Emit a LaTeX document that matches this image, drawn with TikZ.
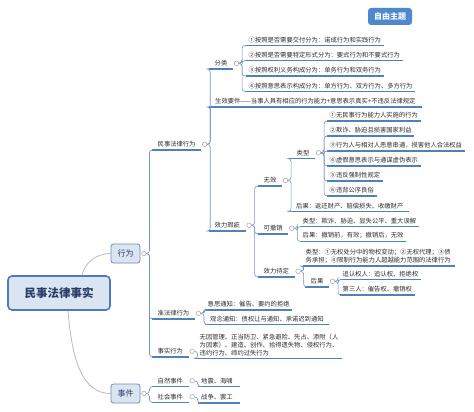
\documentclass[tikz,border=0pt]{standalone}
\usepackage{fontspec}
\setmainfont{Noto Sans CJK SC}
\definecolor{txt}{RGB}{45,45,45}
\definecolor{ulc}{RGB}{79,129,189}
\definecolor{connc}{RGB}{115,148,200}
\definecolor{circc}{RGB}{165,165,165}
\definecolor{boxf}{RGB}{219,229,242}
\definecolor{rootd}{RGB}{79,121,189}
\definecolor{boxd}{RGB}{110,140,185}
\definecolor{rootc}{RGB}{40,60,105}
\definecolor{rconnc}{RGB}{178,186,200}
\definecolor{zyc}{RGB}{77,137,204}
\begin{document}
\begin{tikzpicture}[x=1pt,y=-1pt,
  every node/.style={font=\fontsize{6.3}{8}\selectfont, text=txt},
  lf/.style={anchor=south west, inner xsep=2.5pt, inner ysep=2.6pt},
  br/.style={anchor=south west, inner xsep=5.5pt, inner ysep=2.6pt},
  circ/.style={circle, draw=circc, fill=white, line width=0.5pt, minimum size=4.6pt, inner sep=0pt},
  conn/.style={draw=connc, line width=0.6pt, rounded corners=3pt},
  rconn/.style={draw=rconnc, line width=0.8pt},
  uline/.style={draw=ulc, line width=1.1pt},
  topic/.style={rounded corners=2.5pt, fill=boxf, draw=boxd, line width=0.8pt, minimum width=29pt, minimum height=19pt, font=\fontsize{8}{9}\selectfont, text=rootc, inner sep=0pt},
]
\useasboundingbox (0,0) rectangle (474,412);
\fill[white] (0,0) rectangle (474,412);

% main topics
\node[rounded corners=4pt, fill=boxf, draw=rootd, line width=1.6pt, minimum width=102pt, minimum height=34pt, font=\fontsize{11.5}{13}\selectfont\bfseries, text=rootc] (root) at (59,293) {民事法律事实};
\node[topic] (xw) at (125.5,253.5) {行为};
\node[topic] (sj) at (125.5,393.5) {事件};
\node[fill=zyc, rounded corners=3pt, text=white, font=\fontsize{8}{9}\selectfont\bfseries, minimum width=44pt, minimum height=17pt, inner sep=0pt] (zy) at (390,16.5) {自由主题};

% level 2
\node[br] (mflx) at (152,150) {民事法律行为};
\node[br] (zflxw) at (152,319) {准法律行为};
\node[br] (sssxw) at (152,357) {事实行为};
\node[br] (zrsj) at (152,386.5) {自然事件};
\node[br] (shsj) at (152,402.5) {社会事件};

% level 3 under 民事法律行为
\node[br] (fl) at (209,69) {分类};
\node[lf, inner xsep=6pt] (sxyj) at (209,107) {生效要件——当事人具有相应的行为能力+意思表示真实+不违反法律规定};
\node[br] (xlxc) at (209,231) {效力瑕疵};

% 分类
\node[lf] (fl1) at (246,45.5) {①按照是否需要交付分为：诺成行为和实践行为};
\node[lf] (fl2) at (246,60.5) {②按照是否需要特定形式分为：要式行为和不要式行为};
\node[lf] (fl3) at (246,76) {③按照权利义务构成分为：单务行为和双务行为};
\node[lf] (fl4) at (246,91.5) {④按照意思表示构成分为：单方行为、双方行为、多方行为};

% 效力瑕疵
\node[br] (wx) at (258,186) {无效};
\node[br] (kcx) at (258,234) {可撤销};
\node[br] (xldd) at (258,277) {效力待定};

% 无效
\node[br] (lx1) at (291,158.5) {类型};
\node[lf, inner xsep=5pt] (hg1) at (291,211.5) {后果：返还财产、赔偿损失、收缴财产};
\node[lf] (w1) at (327,121) {①无民事行为能力人实施的行为};
\node[lf] (w2) at (327,136) {②欺诈、胁迫且损害国家利益};
\node[lf] (w3) at (327,151) {③行为人与相对人恶意串通，损害他人合法权益};
\node[lf] (w4) at (327,166) {④虚假意思表示与通谋虚伪表示};
\node[lf] (w5) at (327,181) {⑤违反强制性规定};
\node[lf] (w6) at (327,196) {⑥违背公序良俗};

% 可撤销
\node[lf] (kc1) at (300,226.5) {类型：欺诈、胁迫、显失公平、重大误解};
\node[lf] (kc2) at (300,241.5) {后果：撤销前，有效；撤销后，无效};

% 效力待定
\node[lf, text width=147pt, align=left] (dd1) at (303,266) {类型：①无权处分中的物权变动；②无权代理；③债\\务承担；④限制行为能力人超越能力范围的法律行为};
\node[br] (hg3) at (305,287) {后果};
\node[lf] (dd2) at (340,279.5) {追认权人：追认权、拒绝权};
\node[lf] (dd3) at (340,295) {第三人：催告权、撤销权};

% 准法律行为
\node[lf] (yt) at (205,310) {意思通知：催告、要约的拒绝};
\node[lf, inner xsep=5pt] (gn) at (205,324.5) {观念通知：债权让与通知、承诺迟到通知};

% 事实行为
\node[lf, text width=140pt, align=left] (ss) at (197,358.5) {无因管理、正当防卫、紧急避险、先占、添附（人\\为因素）、建造、创作、拾得遗失物、侵权行为、\\违约行为、缔约过失行为};

% 事件
\node[lf, inner xsep=3pt, text width=36pt, align=left] (dz) at (198,386.5) {地震、海啸};
\node[lf, inner xsep=3pt, text width=36pt, align=left] (zz) at (198,403) {战争、罢工};

% underlines
\foreach \n in {mflx,zflxw,sssxw,zrsj,shsj,fl,sxyj,xlxc,fl1,fl2,fl3,fl4,wx,kcx,xldd,lx1,hg1,w1,w2,w3,w4,w5,w6,kc1,kc2,dd1,hg3,dd2,dd3,yt,gn,ss,dz,zz}
  \draw[uline] (\n.south west) -- (\n.south east);

% root connectors
\draw[rconn] ([xshift=23pt]root.north) .. controls +(3,-13) and +(-14,0) .. (xw.west);
\draw[rconn] ([xshift=9pt]root.south) .. controls +(4,50) and +(-28,0) .. (sj.west);

% circles
\foreach \n in {xw,sj,mflx,zflxw,sssxw,zrsj,shsj,fl,xlxc,wx,kcx,xldd,lx1,hg3}
  \node[circ] (c-\n) at ([xshift=3.5pt]\n.east) {};

% connectors
\foreach \p/\c in {xw/mflx,xw/zflxw,xw/sssxw,sj/zrsj,sj/shsj,
  mflx/fl,mflx/sxyj,mflx/xlxc,fl/fl1,fl/fl2,fl/fl3,fl/fl4,
  xlxc/wx,xlxc/kcx,xlxc/xldd,wx/lx1,wx/hg1,
  lx1/w1,lx1/w2,lx1/w3,lx1/w4,lx1/w5,lx1/w6,
  kcx/kc1,kcx/kc2,xldd/dd1,xldd/hg3,hg3/dd2,hg3/dd3,
  zflxw/yt,zflxw/gn,sssxw/ss,zrsj/dz,shsj/zz}
  \draw[conn] (c-\p.east) -- ++(3,0) |- (\c.south west);
\end{tikzpicture}
\end{document}
